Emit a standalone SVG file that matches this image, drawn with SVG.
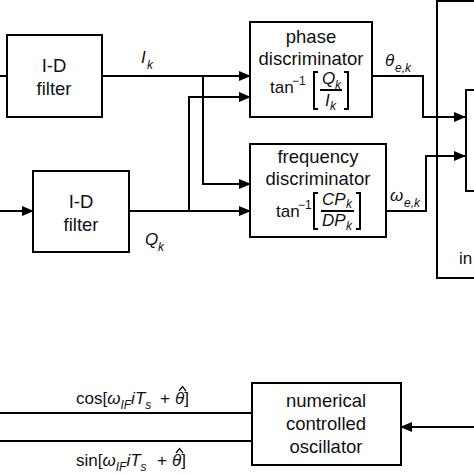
<svg xmlns="http://www.w3.org/2000/svg" width="474" height="474" viewBox="0 0 474 474">
<defs>
<marker id="ah" markerWidth="12" markerHeight="10" refX="11" refY="5" orient="auto" markerUnits="userSpaceOnUse">
<path d="M0,0 L12,5 L0,10 Z" fill="#000"/>
</marker>
<style>
.box{fill:#fff;stroke:#000;stroke-width:2}
.ln{fill:none;stroke:#000;stroke-width:2}
.hat{fill:none;stroke:#111;stroke-width:1.3}
.t{font-family:"Liberation Sans",Arial,sans-serif;font-size:18.5px;fill:#111;text-anchor:middle}
.m{font-family:"Liberation Sans",Arial,sans-serif;font-size:17px;fill:#111}
.i{font-style:italic}
.s{font-size:12px}
</style>
</defs>
<rect width="474" height="474" fill="#fff"/>

<g id="connectors">
<line class="ln" x1="0" y1="76" x2="8" y2="76"/>
<line class="ln" x1="0" y1="211" x2="33" y2="211" marker-end="url(#ah)"/>
<line class="ln" x1="102" y1="76" x2="250" y2="76" marker-end="url(#ah)"/>
<polyline class="ln" points="203,76 203,184 250,184" marker-end="url(#ah)"/>
<line class="ln" x1="129" y1="211" x2="250" y2="211" marker-end="url(#ah)"/>
<polyline class="ln" points="189,211 189,97 250,97" marker-end="url(#ah)"/>
<polyline class="ln" points="372,76 423,76 423,117 465,117" marker-end="url(#ah)"/>
<polyline class="ln" points="386,211 426,211 426,156 465,156" marker-end="url(#ah)"/>
<line class="ln" x1="474" y1="427" x2="401" y2="427" marker-end="url(#ah)"/>
<line class="ln" x1="0" y1="413" x2="252" y2="413"/>
<line class="ln" x1="0" y1="441" x2="252" y2="441"/>
</g>

<g id="filter-i">
<rect class="box" x="7" y="35" width="95" height="82"/>
<text class="t" x="54" y="72">I-D</text>
<text class="t" x="54" y="95">filter</text>
</g>

<g id="filter-q">
<rect class="box" x="33" y="171" width="96" height="81"/>
<text class="t" x="81" y="208">I-D</text>
<text class="t" x="81" y="231">filter</text>
</g>

<g id="phase-disc">
<rect class="box" x="250" y="22" width="122" height="95"/>
<text class="t" x="311" y="43">phase</text>
<text class="t" x="311" y="65">discriminator</text>
<text class="m" x="270" y="93" font-size="15">tan</text>
<text class="m s" x="292" y="85">−1</text>
<path class="ln" d="M318,72 H314 V109 H318 M344,72 H348 V109 H344" stroke-width="1.5"/>
<line class="ln" x1="320" y1="90" x2="342" y2="90" stroke-width="1.5"/>
<text class="m i" x="322" y="84">Q</text>
<text class="m i s" x="335" y="89">k</text>
<text class="m i" x="325" y="106">I</text>
<text class="m i s" x="330" y="110">k</text>
</g>

<g id="freq-disc">
<rect class="box" x="250" y="144" width="136" height="93"/>
<text class="t" x="318" y="163">frequency</text>
<text class="t" x="318" y="185">discriminator</text>
<text class="m" x="276" y="217" font-size="15">tan</text>
<text class="m s" x="298" y="209">−1</text>
<path class="ln" d="M318,193 H314 V229 H318 M356,193 H360 V229 H356" stroke-width="1.5"/>
<line class="ln" x1="321" y1="211" x2="354" y2="211" stroke-width="1.5"/>
<text class="m i" x="322" y="205">CP</text>
<text class="m i s" x="346" y="208">k</text>
<text class="m i" x="322" y="226">DP</text>
<text class="m i s" x="346" y="230">k</text>
</g>

<g id="labels">
<text class="m i" x="141" y="63">I</text>
<text class="m i s" x="147" y="69">k</text>
<text class="m i" x="145" y="245">Q</text>
<text class="m i s" x="158" y="251">k</text>
<text class="m i" x="385" y="66">θ</text>
<text class="m i s" x="395" y="72">e,k</text>
<text class="m i" x="390" y="201">ω</text>
<text class="m i s" x="404" y="207">e,k</text>
<text class="m" x="76" y="404" font-size="18">cos[<tspan class="i">ω</tspan><tspan class="i s" dy="5">IF</tspan><tspan class="i" dy="-5">iT</tspan><tspan class="i s" dy="5">s</tspan><tspan dy="-5" x="160">+</tspan><tspan class="i" x="175">θ</tspan>]</text>
<polyline class="hat" points="179,391 182.5,386.5 186,391"/>
<text class="m" x="76" y="466" font-size="18">sin[<tspan class="i">ω</tspan><tspan class="i s" dy="5">IF</tspan><tspan class="i" dy="-5">iT</tspan><tspan class="i s" dy="5">s</tspan><tspan dy="-5" x="157">+</tspan><tspan class="i" x="172">θ</tspan>]</text>
<polyline class="hat" points="176,453 179.5,448.5 183,453"/>
</g>

<g id="big-block">
<path class="ln" d="M474,1 H437 V278 H474"/>
<path class="ln" d="M474,90 H466 V191 H474"/>
<text class="m" x="459" y="264">in</text>
</g>

<g id="nco">
<rect class="box" x="252" y="383" width="149" height="82"/>
<text class="t" x="326" y="407">numerical</text>
<text class="t" x="326" y="430">controlled</text>
<text class="t" x="326" y="453">oscillator</text>
</g>
</svg>
